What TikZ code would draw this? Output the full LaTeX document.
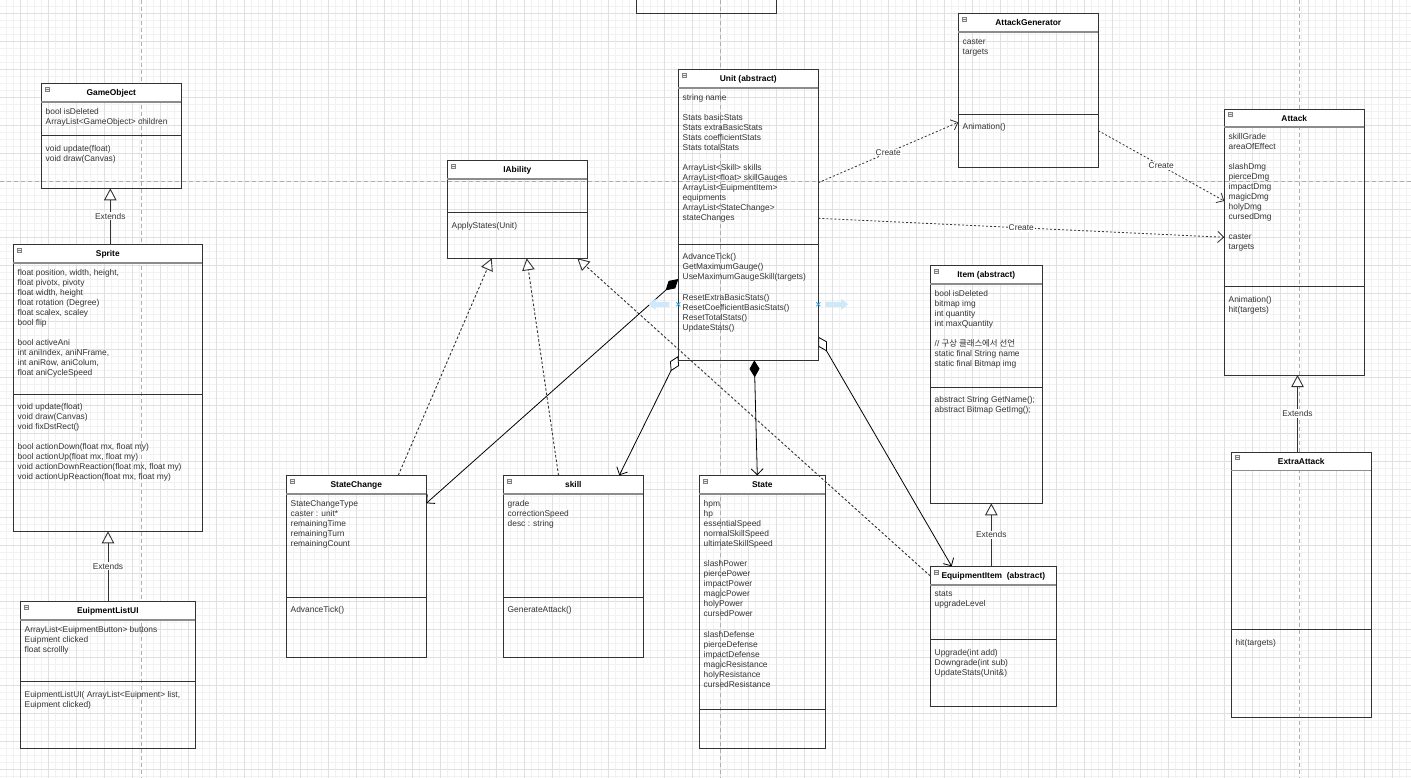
\documentclass[tikz,border=0pt]{standalone}
\usepackage{fontspec}
\setmainfont{Liberation Sans}
\newfontfamily\cjk{Noto Sans CJK KR}
\usetikzlibrary{arrows.meta}
\definecolor{ink}{HTML}{333333}
\definecolor{gridmaj}{HTML}{E0E0E0}
\definecolor{gridmin}{HTML}{F2F2F2}
\definecolor{pagebrk}{HTML}{ADADAD}
\definecolor{hdrline}{HTML}{8C8C8C}
\definecolor{hoverblue}{HTML}{CFE9FA}
\definecolor{xblue}{HTML}{29A8F0}
\newcommand{\bodyfont}{\fontsize{8.4}{10}\selectfont}
\tikzset{
  classbox/.style={draw=ink, line width=0.9pt, anchor=north west, inner sep=0pt, outer sep=0pt},
  hdrsep/.style={draw=hdrline, line width=1.8pt},
  msep/.style={draw=ink, line width=0.9pt},
  ctitle/.style={anchor=base, inner sep=0pt, font=\bodyfont\bfseries, text=black},
  txt/.style={anchor=base west, inner sep=0pt, font=\bodyfont, text=ink},
  icon/.style={draw=gray, fill=gray!12, line width=0.5pt},
  lbl/.style={fill=white, inner sep=1pt, font=\bodyfont, text=ink},
  ext/.style={draw=ink, line width=0.9pt, -{Triangle[length=12pt, width=12.5pt, fill=white]}},
  real/.style={ext, dash pattern=on 2.5pt off 2pt},
  createln/.style={draw=ink, line width=0.8pt, dash pattern=on 2pt off 2pt, -{Straight Barb[length=6pt, width=11pt]}},
  comp/.style={draw=black, line width=0.8pt, {Diamond[length=17pt, width=10pt]}-{Straight Barb[length=6pt, width=12pt]}},
  aggr/.style={draw=black, line width=0.8pt, {Diamond[length=17pt, width=10pt, fill=white]}-{Straight Barb[length=6pt, width=12pt]}},
  pagebreak/.style={draw=pagebrk, line width=0.8pt, dash pattern=on 4pt off 3pt},
  gmin/.style={draw=gridmin, line width=0.6pt},
  gmaj/.style={draw=gridmaj, line width=0.8pt},
}
% #1 name, #2 x, #3 y, #4 w, #5 h, #6 method separator offset, #7 title
\newcommand{\umlclass}[7]{%
  \fill[white] (#2,#3) rectangle ++(#4,18.6);
  \node[classbox, minimum width=#4pt, minimum height=#5pt] (#1) at (#2,#3) {};
  \draw[hdrsep] ({#2},{#3+18.4}) -- ++(#4,0);
  \draw[msep] ({#2},{#3+#6}) -- ++(#4,0);
  \node[ctitle] (#1-title) at ({#2+#4/2},{#3+12.5}) {#7};
  \draw[icon] ({#2+3.7},{#3+3.5}) rectangle ++(4.3,4);
  \draw[draw=gray, line width=0.4pt] ({#2+4.4},{#3+5.5}) -- ++(2.9,0);
}
% #1 prefix, #2 x, #3 first baseline, #4 list of lines
\newcommand{\tlines}[4]{%
  \foreach \lineText [count=\idx from 0] in {#4}{%
    \node[txt] (#1-\idx) at ({#2},{#3+10.07*\idx}) {\lineText};}%
}
\begin{document}
\begin{tikzpicture}[x=1pt,y=-1pt]
\useasboundingbox (0,0) rectangle (1411,778);
\fill[white] (0,0) rectangle (1411,778);
\begin{scope}
  \clip (0,0) rectangle (1411,778);
  \foreach \g in {0,...,201} \draw[gmin] ({6.3+7*\g},0) -- ++(0,778);
  \foreach \g in {0,...,111} \draw[gmin] (0,{6.3+7*\g}) -- ++(1411,0);
  \foreach \g in {0,...,50} \draw[gmaj] ({20.3+28*\g},0) -- ++(0,778);
  \foreach \g in {0,...,27} \draw[gmaj] (0,{13.3+28*\g}) -- ++(1411,0);
  \draw[pagebreak] (141.7,0) -- (141.7,778);
  \draw[pagebreak] (720.4,0) -- (720.4,778);
  \draw[pagebreak] (1299.2,0) -- (1299.2,778);
  \draw[pagebreak] (0,181) -- (1411,181);
\end{scope}

% partially visible box at the top
\node[classbox, minimum width=140pt, minimum height=40pt] (topbox) at (636.3,-26.7) {};

% ---- classes ----
\umlclass{go}{41.3}{83.3}{140}{105}{52.4}{GameObject}
\tlines{go-a}{45.5}{114.1}{bool isDeleted, ArrayList<GameObject> children}
\tlines{go-m}{45.5}{151.1}{void update(float), void draw(Canvas)}

\umlclass{sprite}{13.3}{244.3}{189}{287}{150}{Sprite}
\tlines{sprite-a}{17.5}{275.1}{{float position, width, height,}, {float pivotx, pivoty}, {float width, height}, float rotation (Degree), {float scalex, scaley}, bool flip, {}, bool activeAni, {int aniIndex, aniNFrame,}, {int aniRow, aniColum,}, float aniCycleSpeed}
\tlines{sprite-m}{17.5}{409.5}{void update(float), void draw(Canvas), void fixDstRect(), {}, {bool actionDown(float mx, float my)}, {bool actionUp(float mx, float my)}, {void actionDownReaction(float mx, float my)}, {void actionUpReaction(float mx, float my)}}

\umlclass{elui}{20.3}{601.3}{175}{147}{80.4}{EuipmentListUI}
\tlines{elui-a}{24.5}{632.1}{ArrayList<EuipmentButton> buttons, Euipment clicked, float scrollly}
\tlines{elui-m}{24.5}{697.1}{{EuipmentListUI( ArrayList<Euipment> list,}, Euipment clicked)}

\umlclass{iab}{447.3}{160.3}{140}{98}{52}{IAbility}
\tlines{iab-m}{451.5}{228.1}{ApplyStates(Unit)}

\umlclass{sc}{286.3}{475.3}{140}{182}{122}{StateChange}
\tlines{sc-a}{290.5}{506.1}{StateChangeType, caster : unit*, remainingTime, remainingTurn, remainingCount}
\tlines{sc-m}{290.5}{612.8}{AdvanceTick()}

\umlclass{sk}{503.3}{475.3}{140}{182}{122}{skill}
\tlines{sk-a}{507.5}{506.1}{grade, correctionSpeed, desc : string}
\tlines{sk-m}{507.5}{612.8}{GenerateAttack()}

\umlclass{unit}{678.3}{69.3}{140}{291}{175}{Unit (abstract)}
\tlines{unit-a}{682.5}{100.1}{string name, {}, Stats basicStats, Stats extraBasicStats, Stats coefficientStats, Stats totalStats, {}, ArrayList<Skill> skills, ArrayList<float> skillGauges, ArrayList<EuipmentItem>, equipments, ArrayList<StateChange>, stateChanges}
\tlines{unit-m}{682.5}{259.8}{AdvanceTick(), GetMaximumGauge(), UseMaximumGaugeSkill(targets), {}, ResetExtraBasicStats(), ResetCoefficientBasicStats(), ResetTotalStats(), UpdateStats()}

\umlclass{state}{699.3}{475.3}{126}{273}{234}{State}
\tlines{state-a}{703.5}{506.1}{hpm, hp, essentialSpeed, normalSkillSpeed, ultimateSkillSpeed, {}, slashPower, piercePower, impactPower, magicPower, holyPower, cursedPower, {}, slashDefense, pierceDefense, impactDefense, magicResistance, holyResistance, cursedResistance}

\umlclass{ag}{958.3}{13.3}{140}{154}{101}{AttackGenerator}
\tlines{ag-a}{962.5}{44.1}{caster, targets}
\tlines{ag-m}{962.5}{129.8}{Animation()}

\umlclass{attack}{1224.3}{109}{140}{266}{177.7}{Attack}
\tlines{attack-a}{1228.5}{139.1}{skillGrade, areaOfEffect, {}, slashDmg, pierceDmg, impactDmg, magicDmg, holyDmg, cursedDmg, {}, caster, targets}
\tlines{attack-m}{1228.5}{302.1}{Animation(), hit(targets)}

\umlclass{xa}{1231.3}{452}{140}{265.3}{177.3}{ExtraAttack}
\tlines{xa-m}{1235.5}{645.1}{hit(targets)}

\umlclass{item}{930.3}{265.3}{112}{238}{122}{Item (abstract)}
\tlines{item-a}{934.5}{296.1}{bool isDeleted, bitmap img, int quantity, int maxQuantity, {}, // {\cjk 구상 클래스에서 선언}, static final String name, static final Bitmap img}
\tlines{item-m}{934.5}{402.8}{abstract String GetName();, abstract Bitmap GetImg();}

\umlclass{ei}{930.3}{566.3}{126}{140}{73}{EquipmentItem\ \ (abstract)}
\tlines{ei-a}{934.5}{596.8}{stats, upgradeLevel}
\tlines{ei-m}{934.5}{655.1}{Upgrade(int add), Downgrade(int sub), UpdateStats(Unit\&)}

% ---- connectors ----
\draw[ext] (sprite.north -| 110.3,0) -- node[lbl] (l-ext1) {Extends} (go.south -| 110.3,0);
\draw[ext] (elui.north -| 108,0) -- node[lbl] (l-ext2) {Extends} (sprite.south -| 108,0);
\draw[ext] (ei.north -| 991.3,0) -- node[lbl] (l-ext3) {Extends} (item.south -| 991.3,0);
\draw[ext] (xa.north -| 1297.5,0) -- node[lbl] (l-ext4) {Extends} (attack.south -| 1297.5,0);

\draw[real] (sc.north -| 398.3,0) -- (iab.south -| 491.7,0);
\draw[real] (sk.north -| 558.5,0) -- (iab.south -| 526.7,0);
\draw[real] (ei.west |- 0,576) -- (iab.south -| 577.3,0);

\draw[comp] (unit.west |- 0,279) -- (sc.east |- 0,503.3);
\draw[aggr] (unit.west |- 0,356) -- (sk.north -| 619.3,0);
\draw[comp] (unit.south -| 754.3,0) -- (state.north -| 757.3,0);
\draw[aggr] (unit.east |- 0,336.7) -- (ei.north -| 951.7,0);

\draw[createln] (unit.east |- 0,182.7) -- node[lbl] (l-cr1) {Create} (ag.west |- 0,122.3);
\draw[createln] (unit.east |- 0,218.3) -- node[lbl] (l-cr2) {Create} (attack.west |- 0,237.3);
\draw[createln] (ag.east |- 0,130.7) -- node[lbl] (l-cr3) {Create} (attack.west |- 0,201);

% ---- hover handles on Unit ----
\fill[hoverblue] (648.3,304.3) -- (655.5,298.8) -- (655.5,301.8) -- (669.3,301.8) -- (669.3,306.8) -- (655.5,306.8) -- (655.5,309.8) -- cycle;
\fill[hoverblue] (848.3,304.3) -- (841.1,298.8) -- (841.1,301.8) -- (825.3,301.8) -- (825.3,306.8) -- (841.1,306.8) -- (841.1,309.8) -- cycle;
\draw[xblue, line width=0.8pt] (676.3,302.3) -- (680.3,306.3) (676.3,306.3) -- (680.3,302.3);
\draw[xblue, line width=0.8pt] (816.3,302.3) -- (820.3,306.3) (816.3,306.3) -- (820.3,302.3);
\end{tikzpicture}
\end{document}
